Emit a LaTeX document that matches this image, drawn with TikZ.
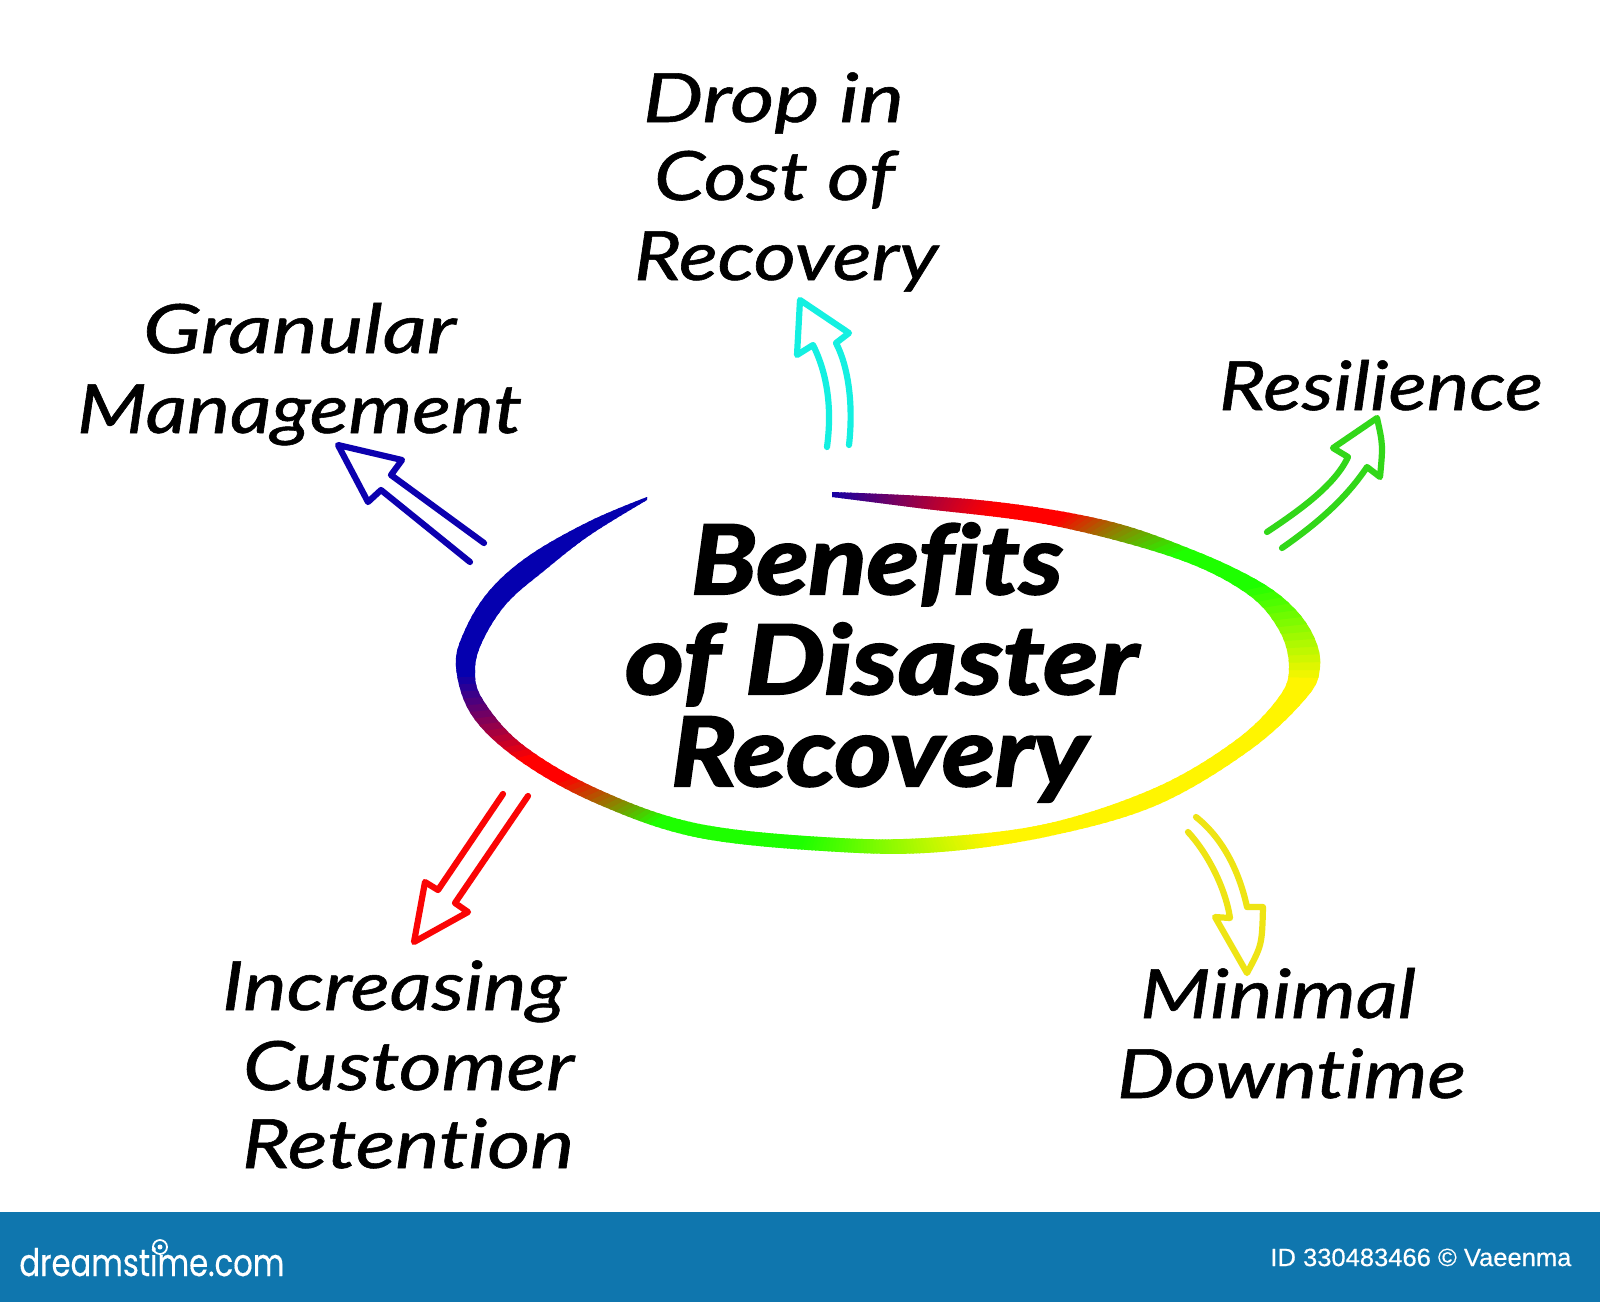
\documentclass[tikz,border=0pt]{standalone}
\usepackage{fontspec}
\usepackage{graphicx}
\setmainfont{Lato}
\newfontfamily\labelfont{Lato}[UprightFont=* Italic,FakeBold=0.8,Ligatures=NoCommon]
\newfontfamily\titlefont{Lato}[UprightFont=* Bold Italic,FakeBold=2.2,Ligatures=NoCommon]
\newfontfamily\logofont{Poppins}[FakeBold=0.4,Ligatures=NoCommon]
\newfontfamily\idfont{Liberation Sans}[FakeBold=0.5]
\definecolor{ringblue}{RGB}{5,0,175}
\definecolor{ringred}{RGB}{255,0,0}
\definecolor{ringgreen}{RGB}{30,255,0}
\definecolor{ringyellow}{RGB}{255,245,0}
\definecolor{arrowblue}{RGB}{12,0,175}
\definecolor{arrowcyan}{RGB}{20,240,225}
\definecolor{arrowgreen}{RGB}{50,215,25}
\definecolor{arrowred}{RGB}{250,5,5}
\definecolor{arrowyellow}{RGB}{238,228,20}
\definecolor{footerblue}{RGB}{15,118,174}
\newcommand{\fitline}[5]{%
  \node[anchor=base west,inner sep=0pt,outer sep=0pt,textline] (#1) at (#2,#4)
    {\resizebox{\dimexpr(#3pt-#2pt)/2\relax}{\height}{#5}};}
\tikzset{
  textline/.style={text=black},
  label/.style={font=\labelfont\fontsize{34}{34}\selectfont},
  headline/.style={font=\titlefont\fontsize{48}{48}\selectfont},
  hollowarrow/.style={draw=#1,line width=3.1pt,line cap=round,line join=round,fill=none},
}
\begin{document}
\begin{tikzpicture}[x=0.5pt,y=-0.5pt]
\useasboundingbox (0,0) rectangle (1600,1302);
\fill[white] (0,0) rectangle (1600,1302);
% rainbow ring
\coordinate (ringcentre) at (870,670);
\begin{scope}
\clip plot[smooth,tension=0.6] coordinates {(647,497) (590,521) (530,555) (490,590) (465,630) (456,667) (473,717) (523,763) (600,805) (700,838) (840,852) (940,852) (1050,836) (1157,805) (1250,750) (1307,697) (1320,667) (1314,637) (1293,607) (1257,580) (1193,550) (1104,520) (979,500) (832,492)}
  -- plot[smooth,tension=0.6] coordinates {(832,497) (918,508) (1050,525) (1175,558) (1246,593) (1279,630) (1289,667) (1279,697) (1236,740) (1157,787) (1050,823) (940,837) (840,838) (700,824) (600,790) (523,745) (483,700) (475,670) (483,640) (507,603) (545,570) (590,535) (647,500)} -- cycle;
  \foreach \aa/\bb/\ca/\cb in {-45/0/ringblue/ringblue,0/14/ringblue/ringred,14/19/ringred/ringred,19/35/ringred/ringgreen,35/68/ringgreen/ringgreen,68/125/ringgreen/ringyellow,125/178/ringyellow/ringyellow,178/192/ringyellow/ringgreen,192/200/ringgreen/ringgreen,200/218/ringgreen/ringred,218/232/ringred/ringred,232/285/ringred/ringblue}{
    \pgfmathtruncatemacro{\last}{\bb-1}
    \foreach \t in {\aa,...,\last}{
      \pgfmathsetmacro{\p}{100*(\t-\aa)/(\bb-\aa)}
      \fill[\cb!\p!\ca] (ringcentre) -- ({870-1200*cos(\t)},{670+1200*sin(\t)}) -- ({870-1200*cos(\t+1.4)},{670+1200*sin(\t+1.4)}) -- cycle;
    }
  }
\end{scope}
% arrows
\draw[hollowarrow=arrowblue] (484,543) -- (391,475) -- (402,460) -- (338,445) -- (368,502) -- (381,490) -- (470,562);
\draw[hollowarrow=arrowcyan] (849,445) .. controls (853,410) and (850,370) .. (836,343) -- (849,333) -- (800,300) -- (797,355) -- (813,345) .. controls (828,375) and (832,410) .. (827,447);
\draw[hollowarrow=arrowgreen] (1267,532) .. controls (1300,510) and (1335,485) .. (1348,457) -- (1333,448) -- (1377,418) .. controls (1383,445) .. (1380,477) -- (1367,467) .. controls (1345,500) and (1315,525) .. (1282,548);
\draw[hollowarrow=arrowred] (503,794) -- (438,890) -- (425,882) -- (414,942) -- (468,912) -- (455,903) -- (528,796);
\draw[hollowarrow=arrowyellow] (1196,817) .. controls (1225,840) and (1240,875) .. (1247,907) -- (1263,907) .. controls (1262,945) .. (1247,973) -- (1215,917) -- (1230,918) .. controls (1225,885) and (1205,850) .. (1188,832);
% title
\begin{scope}[every node/.append style={headline}]
\fitline{titleA}{691}{1063}{594}{Benefits}
\fitline{titleB}{625}{1138}{694}{of Disaster}
\fitline{titleC}{671}{1087}{786}{Recovery}
\end{scope}
% labels
\begin{scope}[every node/.append style={label}]
\fitline{dropA}{643}{904}{122}{Drop in}
\fitline{dropB}{654}{895}{200}{Cost of}
\fitline{dropC}{634}{938}{280}{Recovery}
\fitline{granA}{143}{456}{353}{Granular}
\fitline{granB}{77}{522}{433}{Management}
\fitline{resil}{1219}{1543}{410}{Resilience}
\fitline{incrA}{222}{566}{1010}{Increasing}
\fitline{incrB}{243}{574}{1090}{Customer}
\fitline{incrC}{242}{574}{1168}{Retention}
\fitline{miniA}{1140}{1416}{1018}{Minimal}
\fitline{miniB}{1117}{1466}{1098}{Downtime}
\end{scope}
% footer
\fill[footerblue] (0,1212) rectangle (1600,1302);
\node[anchor=base west,inner sep=0pt,text=white,font=\logofont\fontsize{19}{19}\selectfont] (logo) at (19,1276) {\resizebox{132.5pt}{\height}{dreamstime.com}};
\draw[white,line width=0.9pt] (160,1247) circle (7);
\fill[white] (160,1247) circle (2.5);
\node[anchor=base west,inner sep=0pt,text=white,font=\idfont\fontsize{12.5}{12.5}\selectfont] (idline) at (1270,1266) {\resizebox{150.5pt}{\height}{ID 330483466 © Vaeenma}};
\end{tikzpicture}
\end{document}
